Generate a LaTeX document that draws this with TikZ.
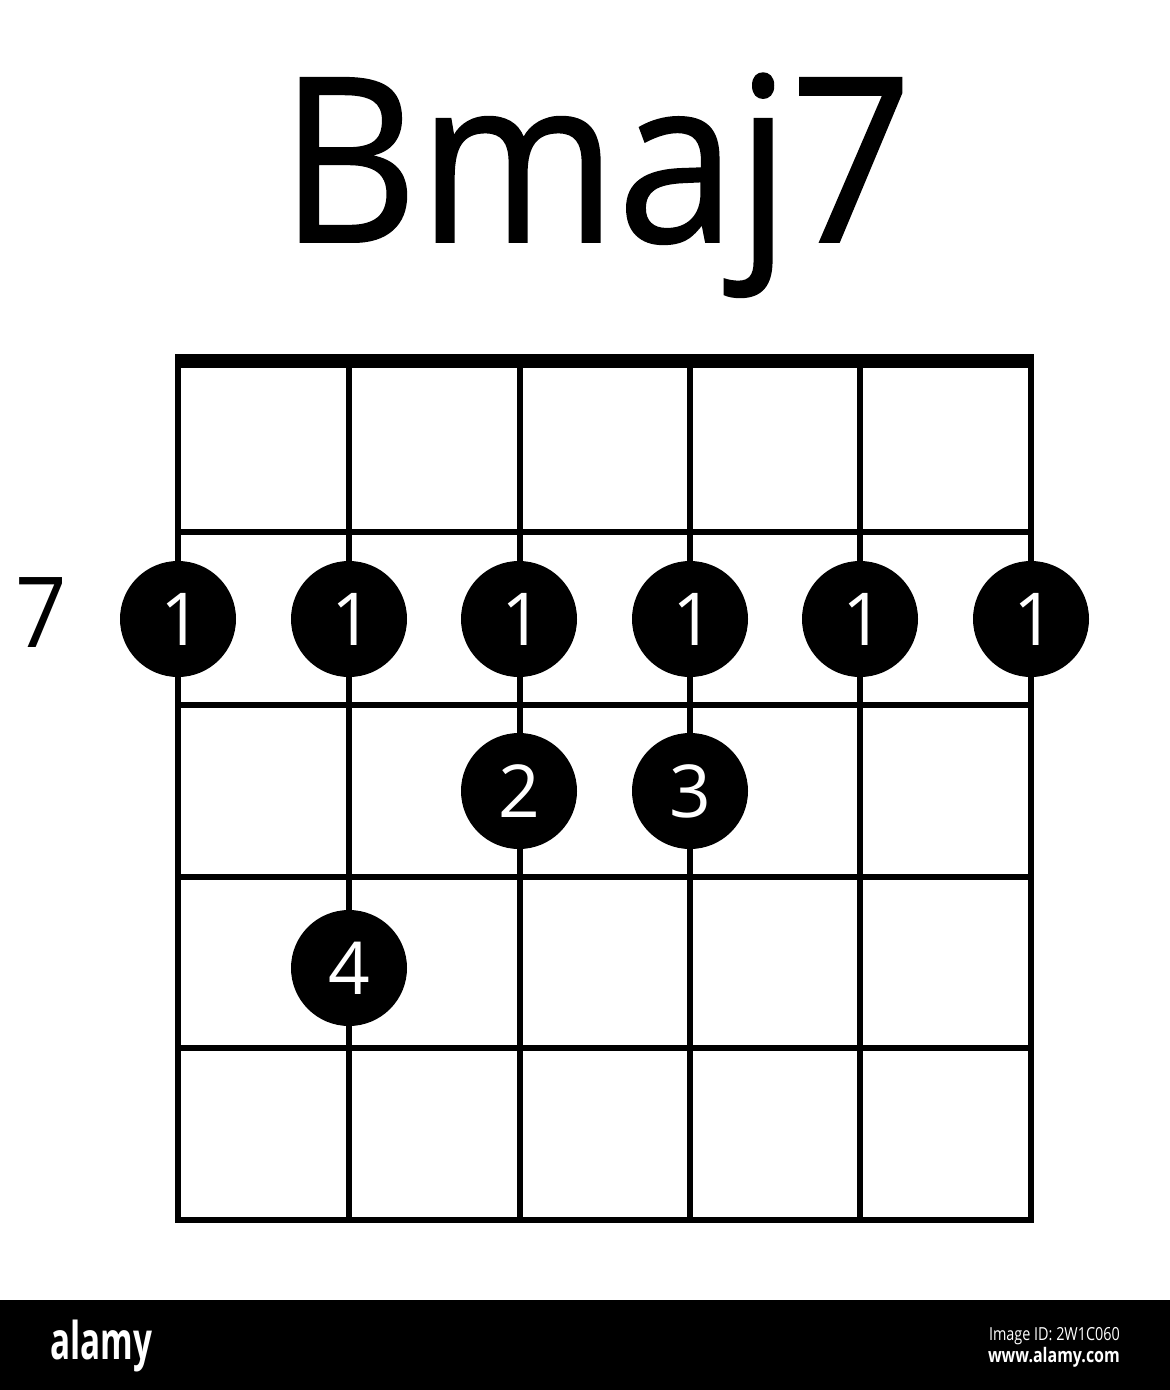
\documentclass[tikz,border=0pt]{standalone}
\usepackage{fontspec}
\setmainfont{Open Sans}
\newfontfamily\titlefont[FakeBold=0.8]{Open Sans}
\usetikzlibrary{calc}

\tikzset{
	gridline/.style = {line width = 6pt},
	finger/.style = {circle, fill = black, text = white, inner sep = 0pt, minimum size = 116pt, font = \fontsize{73}{73}\selectfont},
	plain/.style = {inner sep = 0pt, anchor = base, transform shape}
}

\begin{document}
\begin{tikzpicture}[x = 1pt, y = -1pt]
		\useasboundingbox (0,0) rectangle (1170,1390);
		
		\fill (0,1300) rectangle (1170,1390);
		
		\node [plain, font = \titlefont\fontsize{230}{230}\selectfont, xscale = 0.93] (title) at (596,242) {Bmaj7};
		\node [plain, font = \fontsize{98}{98}\selectfont, xscale = 0.92] (fret) at (41,647) {7};
		
		\begin{scope}[gridline]
			\foreach \x in {178,349,520,690,860,1031} {
				\draw (\x,361) -- (\x,1220);
			}
			\foreach \y in {532,705,877,1048,1220} {
				\draw (175,\y) -- (1034,\y);
			}
		\end{scope}
		\draw [line width = 14pt] (175,361) -- (1034,361);
		
		\foreach \x/\n [count = \i] in {178/1,349/1,519/1,690/1,860/1,1031/1} {
			\node [finger] (bar\i) at (\x,619) {\kern6pt\n};
		}
		\node [finger] (middle) at (519,791) {2};
		\node [finger] (ring) at (690,791) {3};
		\node [finger] (pinky) at (349,968) {4};
		
		\begin{scope}[text = white]
			\node [plain, anchor = base west, font = \bfseries\fontsize{52}{52}\selectfont, xscale = 0.64] (logo) at (50,1359) {alamy};
			\node [plain, anchor = base east, font = \fontsize{18}{18}\selectfont, xscale = 0.8] (imageid) at (1120,1340) {Image ID: 2W1C060};
			\node [plain, anchor = base east, font = \bfseries\fontsize{20}{20}\selectfont, xscale = 0.8] (site) at (1120,1362) {www.alamy.com};
		\end{scope}
	\end{tikzpicture}
\end{document}
